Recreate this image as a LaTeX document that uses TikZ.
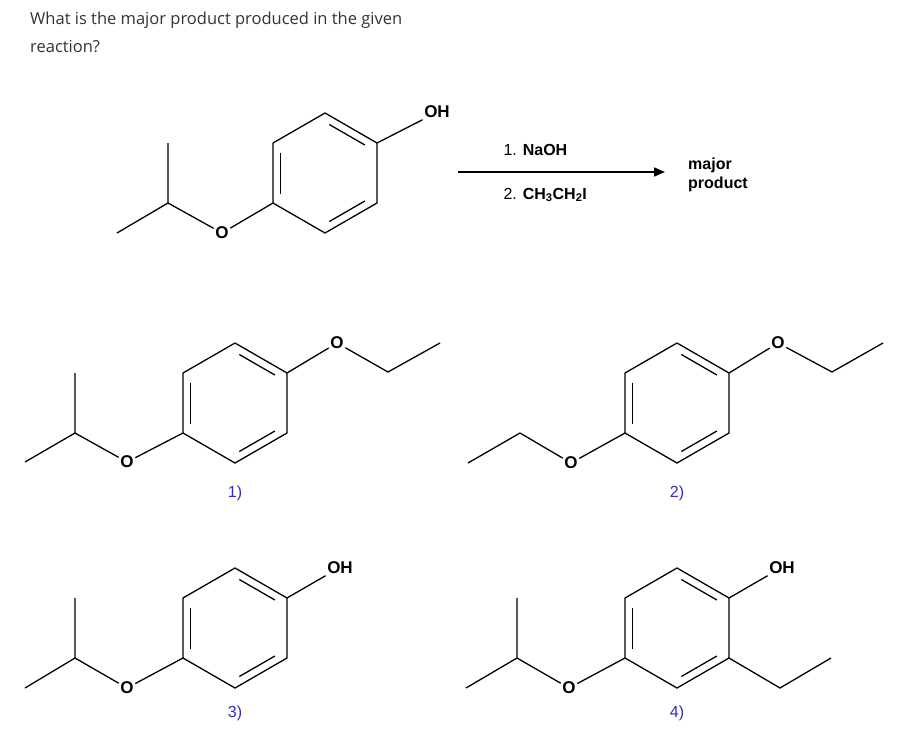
\documentclass[tikz,border=0pt]{standalone}
\usepackage{fontspec}
\setmainfont{Liberation Sans}
\newfontfamily\titlefont{Open Sans}
\usetikzlibrary{calc,arrows.meta}
\definecolor{lblue}{HTML}{2E2EC8}
\definecolor{ttl}{HTML}{333333}
\newcommand\benz[3]{%
  \coordinate (#1c) at (#2,#3);
  \coordinate (#11) at ($(#1c)+(0,-60)$);
  \coordinate (#12) at ($(#1c)+(52,-30)$);
  \coordinate (#13) at ($(#1c)+(52,30)$);
  \coordinate (#14) at ($(#1c)+(0,60)$);
  \coordinate (#15) at ($(#1c)+(-52,30)$);
  \coordinate (#16) at ($(#1c)+(-52,-30)$);
  \draw[bond] (#11)--(#12)--(#13)--(#14)--(#15)--(#16)--cycle;
  \draw[bond,shorten <=5pt,shorten >=5pt] ($(#1c)!0.85!(#16)$)--($(#1c)!0.85!(#15)$);
  \draw[bond,shorten <=5pt,shorten >=5pt] ($(#1c)!0.85!(#11)$)--($(#1c)!0.85!(#12)$);
  \draw[bond,shorten <=5pt,shorten >=5pt] ($(#1c)!0.85!(#13)$)--($(#1c)!0.85!(#14)$);
}
\begin{document}
\begin{tikzpicture}[x=1pt,y=-1pt,
  bond/.style={line width=1.3pt,line join=miter},
  atom/.style={font=\bfseries\fontsize{17}{17}\selectfont,inner sep=1.5pt},
  lbl/.style={font=\fontsize{16}{16}\selectfont,text=lblue},
  reag/.style={font=\fontsize{16}{18}\selectfont}]
\useasboundingbox[fill=white] (0,0) rectangle (910,744);
\node[anchor=north west,text=ttl,font=\titlefont\fontsize{16.5}{28}\selectfont,align=left,inner sep=0] (title) at (30,12) {What is the major product produced in the given\\reaction?};
% reactant
\benz{a}{325}{173}
\node[atom] (aoh) at (437,112) {OH};
\draw[bond] (a2) -- (aoh.south west);
\node[atom] (ao) at (222,233) {O};
\coordinate (ach) at (168,203);
\coordinate (am1) at (168,143);
\coordinate (am2) at (117,233);
\draw[bond] (a5) -- (ao) -- (ach) -- (am1);
\draw[bond] (ach) -- (am2);
% arrow
\coordinate (arS) at (458,172);
\coordinate (arE) at (665,172);
\draw[line width=1.6pt,-{Triangle[length=11pt,width=9pt]}] (arS) -- (arE);
\node[reag,anchor=west] (r1) at (500,150) {1. \textbf{NaOH}};
\node[reag,anchor=west] (r2) at (500,195) {2. \textbf{CH\textsubscript{3}CH\textsubscript{2}I}};
\node[anchor=west,align=left,font=\bfseries\fontsize{16}{19}\selectfont,inner sep=0] (mp) at (688,175) {major\\product};
% option 1
\benz{b}{235}{403}
\node[atom] (bo2) at (337,343) {O};
\coordinate (be1) at (388,372);
\coordinate (be2) at (440,343);
\draw[bond] (b2) -- (bo2) -- (be1) -- (be2);
\node[atom] (bo) at (127,462) {O};
\coordinate (bch) at (75,433);
\coordinate (bm1) at (75,373);
\coordinate (bm2) at (25,462);
\draw[bond] (b5) -- (bo) -- (bch) -- (bm1);
\draw[bond] (bch) -- (bm2);
\node[lbl] (l1) at (235,493) {1)};
% option 2
\benz{c}{677}{403}
\node[atom] (co2) at (778,343) {O};
\coordinate (ce1) at (832,372);
\coordinate (ce2) at (883,343);
\draw[bond] (c2) -- (co2) -- (ce1) -- (ce2);
\node[atom] (co) at (571,463) {O};
\coordinate (cf1) at (520,433);
\coordinate (cf2) at (468,463);
\draw[bond] (c5) -- (co) -- (cf1) -- (cf2);
\node[lbl] (l2) at (677,493) {2)};
% option 3
\benz{d}{235}{628}
\node[atom] (doh) at (340,568) {OH};
\draw[bond] (d2) -- (doh.south west);
\node[atom] (do) at (127,688) {O};
\coordinate (dch) at (75,658);
\coordinate (dm1) at (75,598);
\coordinate (dm2) at (25,688);
\draw[bond] (d5) -- (do) -- (dch) -- (dm1);
\draw[bond] (dch) -- (dm2);
\node[lbl] (l3) at (235,713) {3)};
% option 4
\benz{e}{677}{628}
\node[atom] (eoh) at (782,568) {OH};
\draw[bond] (e2) -- (eoh.south west);
\coordinate (eet1) at (780,688);
\coordinate (eet2) at (831,658);
\draw[bond] (e3) -- (eet1) -- (eet2);
\node[atom] (eo) at (569,688) {O};
\coordinate (ech) at (517,658);
\coordinate (em1) at (517,598);
\coordinate (em2) at (466,688);
\draw[bond] (e5) -- (eo) -- (ech) -- (em1);
\draw[bond] (ech) -- (em2);
\node[lbl] (l4) at (677,713) {4)};
\end{tikzpicture}
\end{document}
